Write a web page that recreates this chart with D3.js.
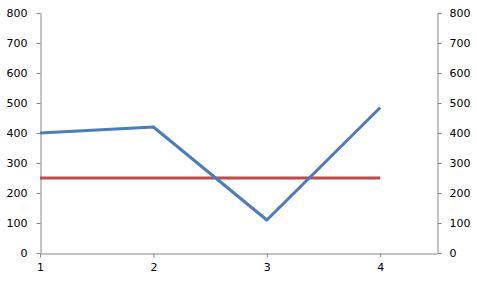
<!DOCTYPE html>
<html><head><meta charset="utf-8">
<script src="https://cdn.jsdelivr.net/npm/d3@7"></script>
<style>body{margin:0;background:#fff}svg{display:block}text{font-family:"DejaVu Sans",Verdana,sans-serif;font-size:11px;fill:#000}</style>
</head><body><svg id="c" width="477" height="285"></svg>
<script>
const categories = [1, 2, 3, 4];
const seriesA = [400, 420, 110, 485];
const seriesB = [250, 250, 250, 250];
const yTicks = [0, 100, 200, 300, 400, 500, 600, 700, 800];

const svg = d3.select("#c");
const L = 40, R = 437, T = 13, B = 253;
const x = d3.scaleLinear().domain([1, 4.5]).range([L, R]);
const y = d3.scaleLinear().domain([0, 800]).range([B, T]);
const axisColor = "#868686";

function styleAxis(g){
  g.selectAll(".domain").attr("stroke", axisColor);
  g.selectAll(".tick line").attr("stroke", axisColor);
  g.selectAll("text").style("font-family", '"DejaVu Sans",Verdana,sans-serif').style("font-size","11px").attr("fill","#000");
}
const gl = svg.append("g").attr("transform", `translate(${L+0.5},0)`)
  .call(d3.axisLeft(y).tickValues(yTicks).tickSize(4).tickSizeOuter(0).tickPadding(9));
styleAxis(gl);
const gr = svg.append("g").attr("transform", `translate(${R+0.5},0)`)
  .call(d3.axisRight(y).tickValues(yTicks).tickSize(4).tickSizeOuter(0).tickPadding(8));
styleAxis(gr);
const gx = svg.append("g").attr("transform", `translate(0,${B+0.5})`)
  .call(d3.axisBottom(x).tickValues(categories).tickFormat(d3.format("d")).tickSize(4).tickSizeOuter(0).tickPadding(6));
styleAxis(gx);

const line = d3.line().x((d,i)=>x(categories[i])).y(d=>y(d));
svg.append("path").datum(seriesB).attr("d", line).attr("fill","none")
  .attr("stroke","#BE4B48").attr("stroke-width",3);
svg.append("path").datum(seriesA).attr("d", line).attr("fill","none")
  .attr("stroke","#4A7EBB").attr("stroke-width",3).attr("stroke-linejoin","round");
</script></body></html>
